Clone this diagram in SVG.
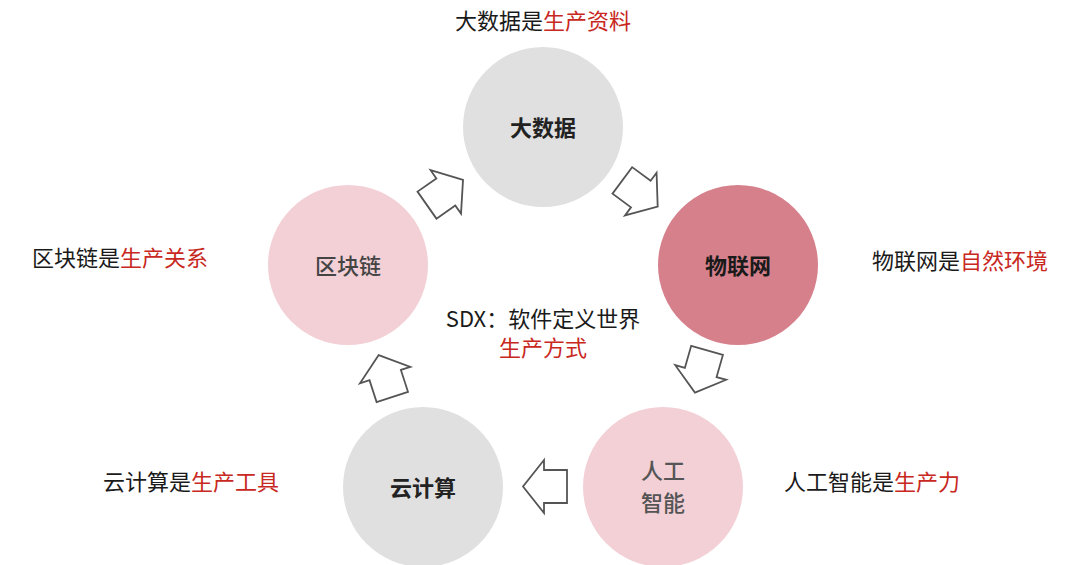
<svg xmlns="http://www.w3.org/2000/svg" width="1080" height="565" viewBox="0 0 1080 565">
<defs>
<path id="arr" d="M22,0 L1,-26.5 L1,-16.5 L-22,-16.5 L-22,16.5 L1,16.5 L1,26.5 Z"/>
</defs>
<style>
text{font-family:"Noto Sans CJK SC","Noto Sans",sans-serif;font-size:22px}
.lbl{text-anchor:start;fill:#1a1a1a}
.red{fill:#c8281e}
.c{text-anchor:middle}
.node{font-size:22px;text-anchor:middle;dominant-baseline:central}
.arrow{fill:#ffffff;stroke:#555555;stroke-width:1.8;stroke-linejoin:miter}
</style>
<rect width="1080" height="565" fill="#ffffff"/>
<g id="connectors">
<use href="#arr" class="arrow" transform="translate(445,192.5) rotate(-35)"/>
<use href="#arr" class="arrow" transform="translate(640,193.5) rotate(36.5)"/>
<use href="#arr" class="arrow" transform="translate(701,371.5) rotate(106)"/>
<use href="#arr" class="arrow" transform="translate(545,486.5) rotate(180)"/>
<use href="#arr" class="arrow" transform="translate(385.5,376) rotate(-108)"/>
</g>
<g id="node-bigdata">
<circle cx="543" cy="127" r="80" fill="#e0e0e0"/>
<text class="node" x="543" y="126" font-weight="bold" fill="#222222">大数据</text>
</g>
<g id="node-iot">
<circle cx="738" cy="265" r="80" fill="#d6808c"/>
<text class="node" x="738" y="264" font-weight="bold" fill="#1a1a1a">物联网</text>
</g>
<g id="node-blockchain">
<circle cx="348" cy="265" r="80" fill="#f2d0d6"/>
<text class="node" x="348" y="264" font-weight="500" fill="#444444">区块链</text>
</g>
<g id="node-cloud">
<circle cx="423" cy="487" r="80" fill="#e0e0e0"/>
<text class="node" x="423" y="486" font-weight="bold" fill="#222222">云计算</text>
</g>
<g id="node-ai">
<circle cx="663" cy="487" r="80" fill="#f2d0d6"/>
<text class="node" x="663" y="469" font-weight="500" fill="#555555">人工</text>
<text class="node" x="663" y="501" font-weight="500" fill="#555555">智能</text>
</g>
<g id="labels">
<text class="lbl" x="455" y="29">大数据是<tspan class="red">生产资料</tspan></text>
<text class="lbl" x="32" y="266">区块链是<tspan class="red">生产关系</tspan></text>
<text class="lbl" x="872" y="269">物联网是<tspan class="red">自然环境</tspan></text>
<text class="lbl" x="103" y="490">云计算是<tspan class="red">生产工具</tspan></text>
<text class="lbl" x="784" y="490">人工智能是<tspan class="red">生产力</tspan></text>
<text class="lbl c" x="543" y="327">SDX：软件定义世界</text>
<text class="c red" x="543" y="356">生产方式</text>
</g>
</svg>
